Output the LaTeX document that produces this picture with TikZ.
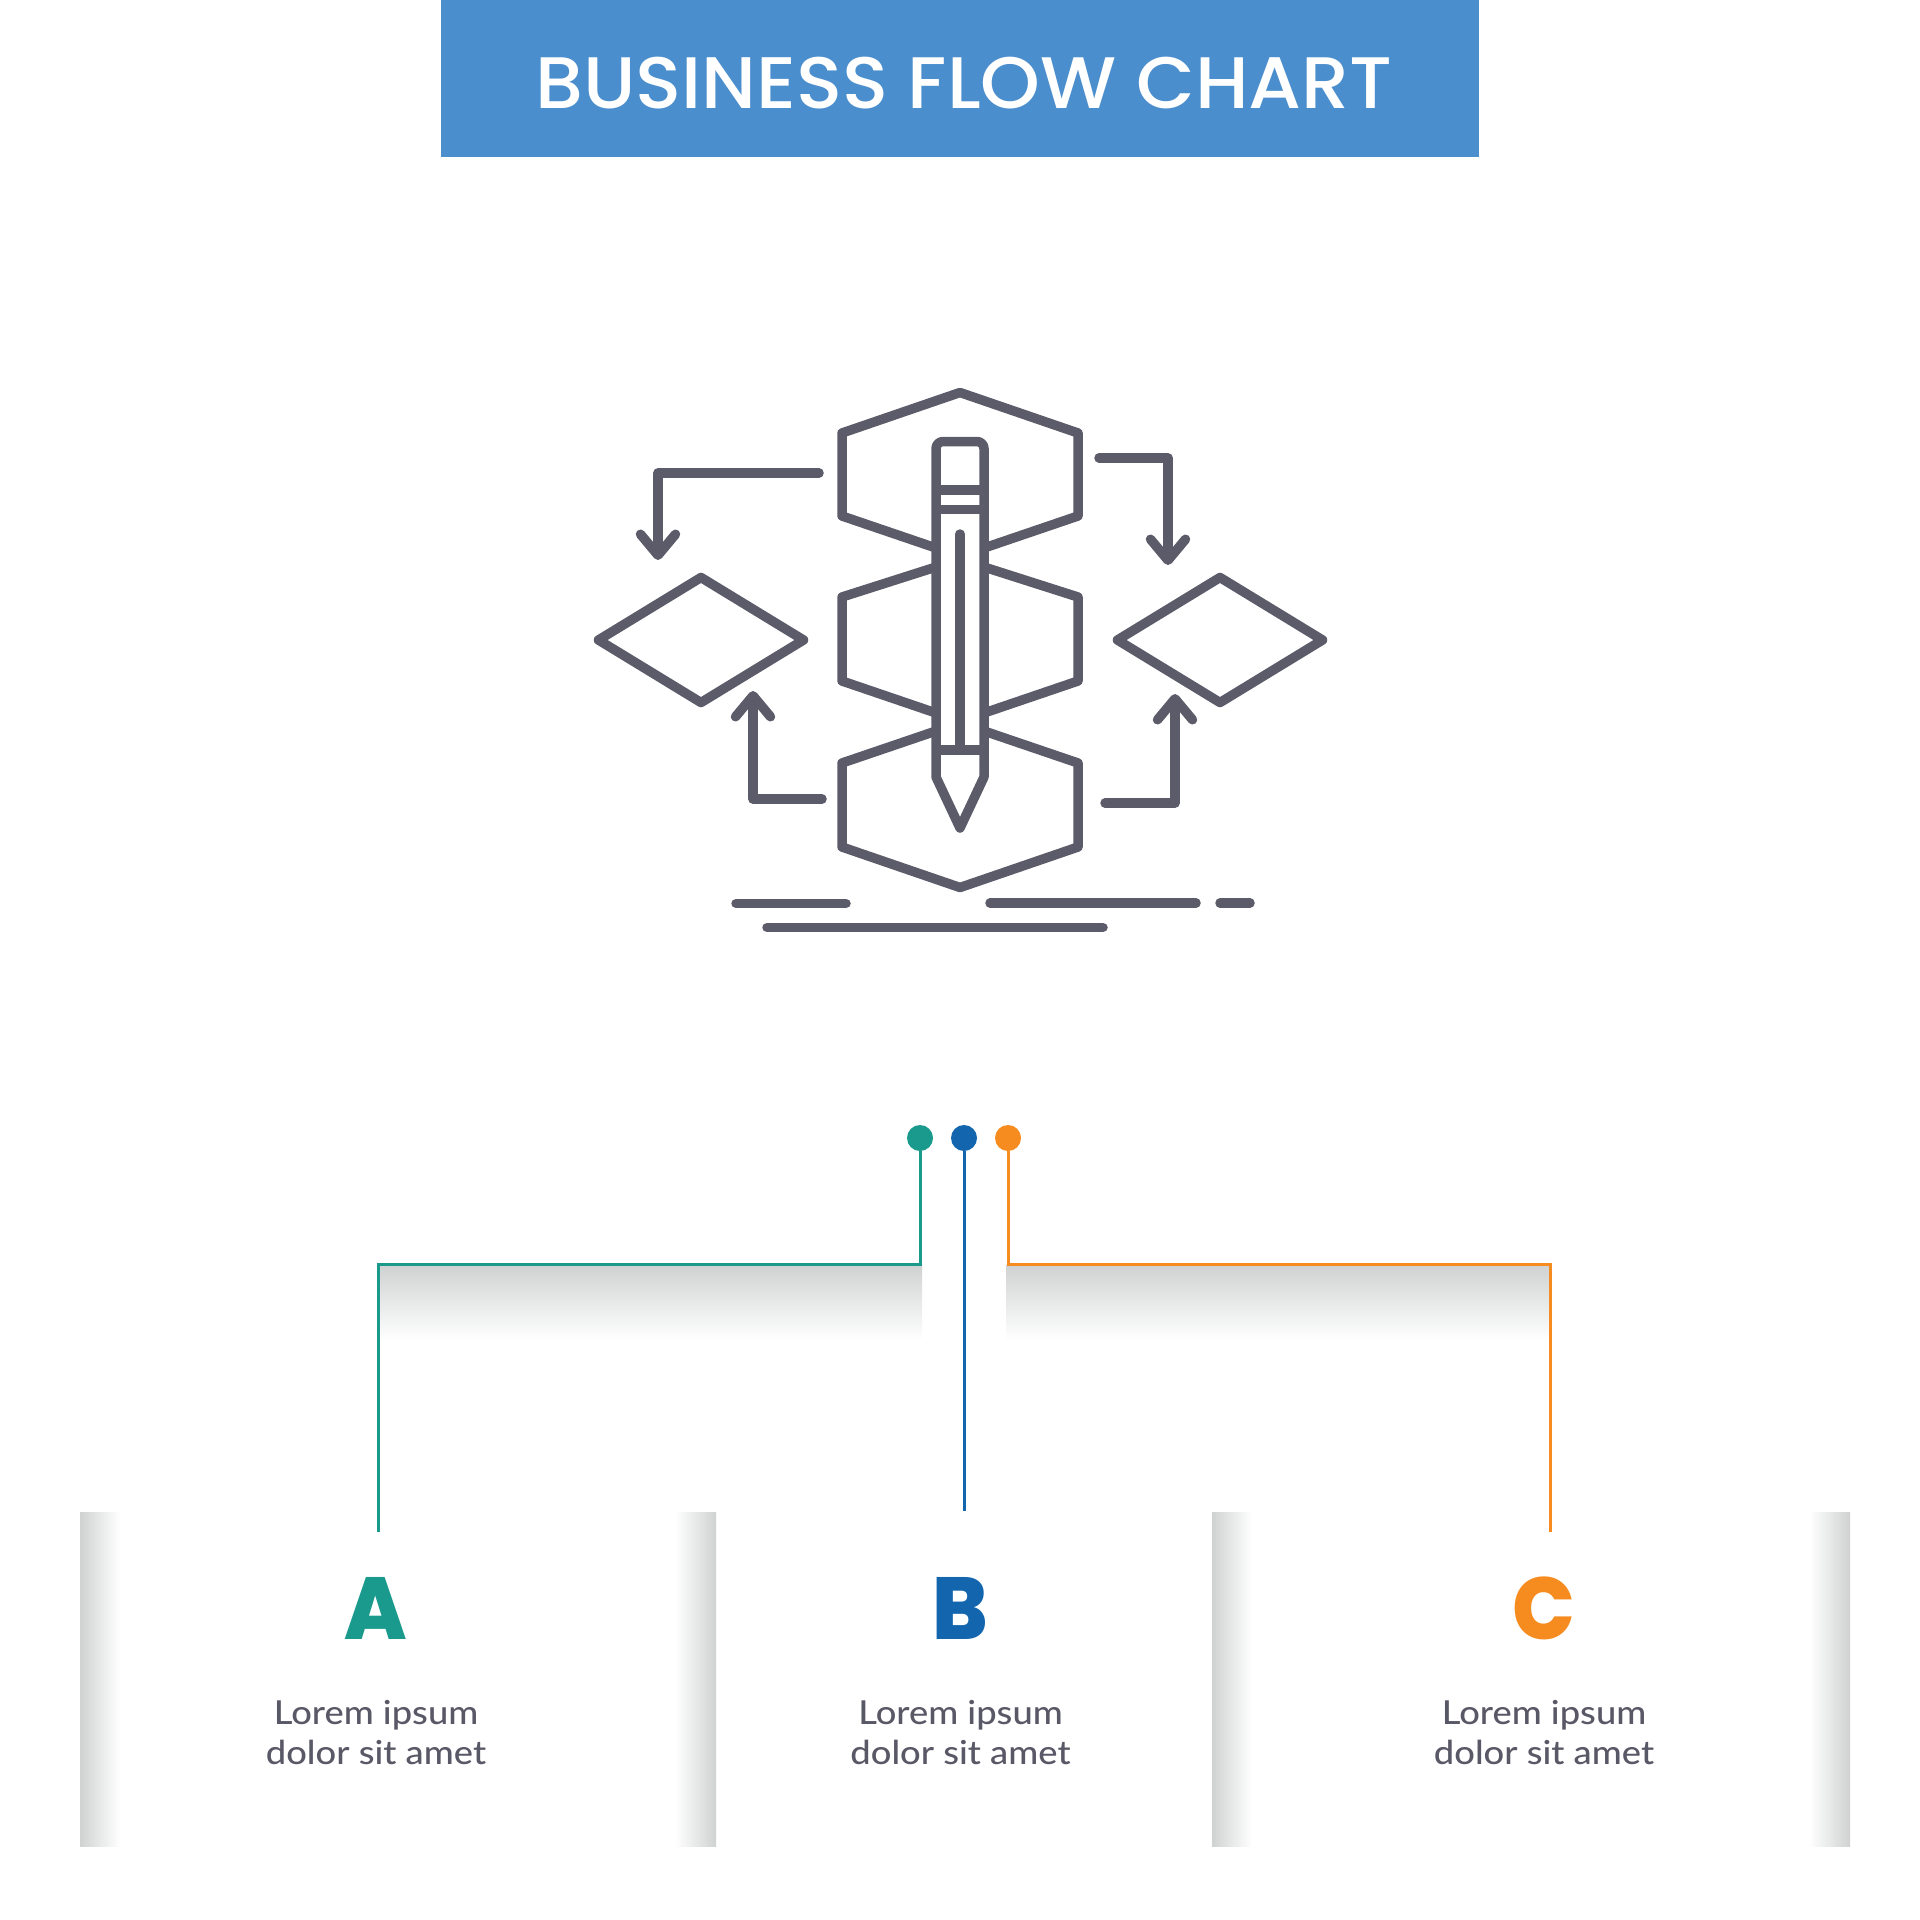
\documentclass[tikz,border=0pt]{standalone}
\usepackage{fontspec}
\usetikzlibrary{arrows.meta,positioning,shapes.geometric}
\setmainfont{Lato}
\newfontfamily\titlefont[FakeStretch=1.042]{Poppins Medium}
\newfontfamily\letterfont[FakeStretch=0.94]{Poppins ExtraBold}
\newfontfamily\blurbfont[FakeStretch=1.1]{Lato Medium}
\definecolor{bannerblue}{HTML}{4A8ECD}
\definecolor{iconink}{HTML}{5C5B6A}
\definecolor{textink}{HTML}{595866}
\definecolor{tealA}{HTML}{1A9A8C}
\definecolor{blueB}{HTML}{1366AE}
\definecolor{orangeC}{HTML}{F68B1F}
\definecolor{fadegray}{HTML}{D0D2D2}
\tikzset{
  icon/.style={draw=iconink,line width=9.5pt,line join=round},
  iconend/.style={icon,line cap=round},
  flow/.style={iconend,-{Straight Barb[round,length=21pt,width=35pt]}},
  rhomb/.style={icon,diamond,aspect=1.62,minimum width=209pt,minimum height=129pt,inner sep=0pt},
  dot/.style={circle,minimum size=26pt,inner sep=0pt},
  wire/.style={line width=3pt},
  bigletter/.style={font=\letterfont\fontsize{88}{88}\selectfont,anchor=base},
  blurb/.style={font=\blurbfont\fontsize{33}{40}\selectfont,text=textink,align=center,anchor=center}
}
\begin{document}
\begin{tikzpicture}[x=1pt,y=-1pt]
  \useasboundingbox (0,0) rectangle (1920,1920);

  \fill[bannerblue] (441,0) rectangle (1479,157);
  \node[font=\titlefont\fontsize{73}{73}\selectfont,text=white,anchor=base] (title) at (964,108) {BUSINESS FLOW CHART};

  \draw[icon] (936,548) -- (842,516) -- (842,433) -- (960,392.5) -- (1078,433) -- (1078,516) -- (984,548);
  \draw[icon] (936,567) -- (842,597) -- (842,681) -- (936,713) (984,567) -- (1078,597) -- (1078,681) -- (984,713);
  \draw[icon] (936,731) -- (842,763) -- (842,847) -- (960,887.5) -- (1078,847) -- (1078,763) -- (984,731);

  \draw[icon] (960,828) -- (936,777) [rounded corners=7pt] -- (936,441.5) -- (984,441.5) [sharp corners] -- (984,777) -- cycle;
  \draw[icon] (936,490) -- (984,490) (936,509.5) -- (984,509.5) (936,750) -- (984,750);
  \draw[iconend] (960,534) -- (960,750);

  \node[rhomb] (leftgate) at (701,640) {};
  \node[rhomb] (rightgate) at (1220,640) {};

  \coordinate (tlstart) at (819,473);
  \coordinate (trstart) at (1099,458);
  \coordinate (blstart) at (822,799);
  \coordinate (brstart) at (1105,803);
  \draw[flow] (tlstart) -- (658,473) -- (658,560);
  \draw[flow] (trstart) -- (1168,458) -- (1168,565);
  \draw[flow] (blstart) -- (753,799) -- (753,691);
  \draw[flow] (brstart) -- (1175,803) -- (1175,694);

  \draw[iconend] (736,903.5) -- (846,903.5);
  \draw[iconend] (990,903) -- (1196,903);
  \draw[iconend] (1220,903) -- (1250,903);
  \draw[iconend] (767,927.5) -- (1103,927.5);

  \fill[top color=fadegray,bottom color=white] (379,1265) rectangle (922,1340);
  \fill[top color=fadegray,bottom color=white] (1006,1265) rectangle (1550,1340);
  \fill[left color=fadegray,right color=white] (80,1512) rectangle (120,1846);
  \fill[left color=white,right color=fadegray] (675,1512) rectangle (716,1846);
  \fill[left color=fadegray,right color=white] (1212,1512) rectangle (1252,1846);
  \fill[left color=white,right color=fadegray] (1809,1512) rectangle (1850,1846);

  \node[dot,fill=tealA] (dotA) at (920,1138) {};
  \node[dot,fill=blueB] (dotB) at (964,1138) {};
  \node[dot,fill=orangeC] (dotC) at (1008,1138) {};
  \coordinate (elbowA) at (378,1264);
  \coordinate (elbowC) at (1550,1264);
  \coordinate (footA) at (378,1532);
  \coordinate (footB) at (964,1511);
  \coordinate (footC) at (1550,1532);
  \draw[wire,tealA] (dotA) |- (elbowA) -- (footA);
  \draw[wire,blueB] (dotB) -- (footB);
  \draw[wire,orangeC] (dotC) |- (elbowC) -- (footC);

  \foreach \name/\x/\col in {A/376/tealA,B/960.5/blueB,C/1544/orangeC} {
    \node[bigletter,text=\col] (letter\name) at (\x,1639) {\name};
    \node[blurb] (blurb\name) at (\x,1733) {Lorem ipsum\\dolor sit amet};
  }
\end{tikzpicture}
\end{document}
